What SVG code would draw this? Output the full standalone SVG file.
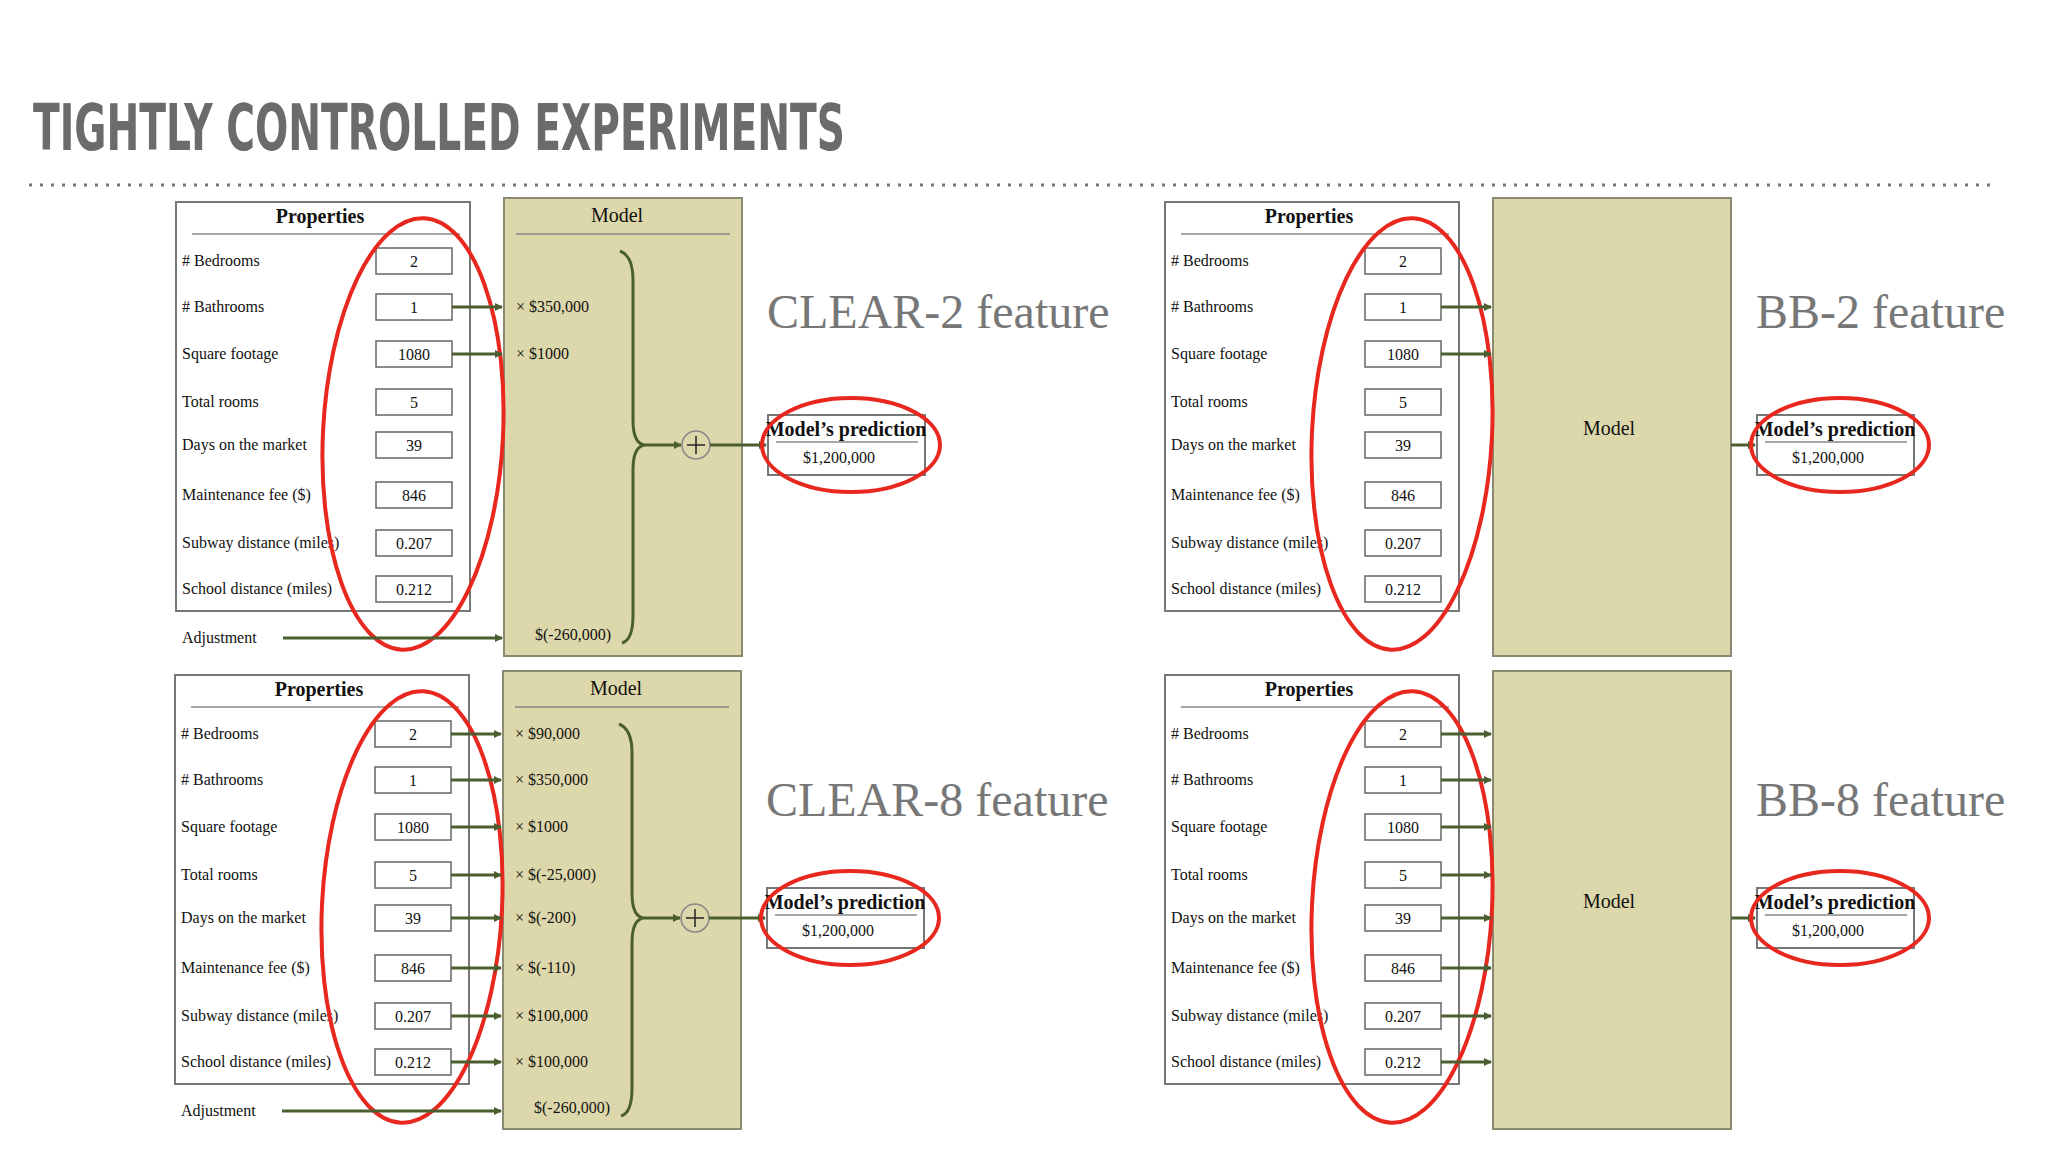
<svg xmlns="http://www.w3.org/2000/svg" width="2048" height="1152" viewBox="0 0 2048 1152">
<style>
.lbl{font-family:"Liberation Serif",serif;font-size:16px;fill:#111}
.val{font-family:"Liberation Serif",serif;font-size:16px;fill:#111;text-anchor:middle}
.hdr{font-family:"Liberation Serif",serif;font-size:20px;fill:#111;text-anchor:middle}
.box{fill:#fff;stroke:#777;stroke-width:2}
.vb{fill:#fff;stroke:#666;stroke-width:1.5}
.model{fill:#ddd8ab;stroke:#8a8a70;stroke-width:2}
.arr{stroke:#4b5e30;stroke-width:3;fill:none;marker-end:url(#ah)}
.red{fill:none;stroke:#e8281e;stroke-width:4}
.feat{font-family:"Liberation Serif",serif;font-size:48px;fill:#777}
.rule{stroke:#888;stroke-width:1.5}
</style>
<defs>
<marker id="ah" markerWidth="8" markerHeight="8" refX="7" refY="4" orient="auto" markerUnits="userSpaceOnUse"><path d="M0,0 L8,4 L0,8 z" fill="#4b5e30"/></marker>
<g id="props">
<rect class="box" x="176" y="202" width="294" height="409"/>
<text class="hdr" x="320" y="223" font-weight="bold">Properties</text>
<line class="rule" x1="192" y1="234" x2="460" y2="234"/>
<text class="lbl" x="182" y="266"># Bedrooms</text>
<text class="lbl" x="182" y="312"># Bathrooms</text>
<text class="lbl" x="182" y="359">Square footage</text>
<text class="lbl" x="182" y="407">Total rooms</text>
<text class="lbl" x="182" y="450">Days on the market</text>
<text class="lbl" x="182" y="500">Maintenance fee ($)</text>
<text class="lbl" x="182" y="548">Subway distance (miles)</text>
<text class="lbl" x="182" y="594">School distance (miles)</text>
<rect class="vb" x="376" y="248" width="76" height="26"/><text class="val" x="414" y="267">2</text>
<rect class="vb" x="376" y="294" width="76" height="26"/><text class="val" x="414" y="313">1</text>
<rect class="vb" x="376" y="341" width="76" height="26"/><text class="val" x="414" y="360">1080</text>
<rect class="vb" x="376" y="389" width="76" height="26"/><text class="val" x="414" y="408">5</text>
<rect class="vb" x="376" y="432" width="76" height="26"/><text class="val" x="414" y="451">39</text>
<rect class="vb" x="376" y="482" width="76" height="26"/><text class="val" x="414" y="501">846</text>
<rect class="vb" x="376" y="530" width="76" height="26"/><text class="val" x="414" y="549">0.207</text>
<rect class="vb" x="376" y="576" width="76" height="26"/><text class="val" x="414" y="595">0.212</text>
<ellipse class="red" cx="413" cy="434" rx="90" ry="216" transform="rotate(3 413 434)"/>
</g>
<g id="pred">
<rect class="box" x="768" y="415" width="157" height="60"/>
<text class="hdr" x="846" y="436" font-size="16" font-weight="bold">Model’s prediction</text>
<line class="rule" x1="776" y1="442" x2="918" y2="442"/>
<text class="val" x="839" y="463">$1,200,000</text>
<ellipse class="red" cx="851" cy="445" rx="89" ry="47"/>
</g>
<g id="brace">
<path d="M620 251 Q633 256 633 280 L633 420 Q633 445 646 445 Q633 445 633 470 L633 615 Q633 640 622 643" fill="none" stroke="#4b5e30" stroke-width="3"/>
<line class="arr" x1="646" y1="445" x2="681" y2="445"/>
<circle cx="696" cy="445" r="14" fill="#ddd8ab" stroke="#888" stroke-width="1.5"/>
<path d="M687 445 H705 M696 436 V454" stroke="#222" stroke-width="1.5"/>
<line class="arr" x1="710" y1="445" x2="766" y2="445"/>
</g>
</defs>
<rect width="2048" height="1152" fill="#fff"/>
<text x="33" y="150" font-family="'DejaVu Sans Condensed','DejaVu Sans',sans-serif" font-stretch="condensed" font-weight="bold" font-size="64" fill="#6b6b6b" textLength="812" lengthAdjust="spacingAndGlyphs">TIGHTLY CONTROLLED EXPERIMENTS</text>
<line x1="29" y1="185" x2="1992" y2="185" stroke="#777" stroke-width="3" stroke-dasharray="3 8"/>

<g id="clear2">
<rect class="model" x="504" y="198" width="238" height="458"/>
<text class="hdr" x="617" y="222">Model</text>
<line class="rule" x1="516" y1="234" x2="730" y2="234"/>
<use href="#props"/>
<text class="lbl" x="516" y="312">× $350,000</text>
<text class="lbl" x="516" y="359">× $1000</text>
<text class="lbl" x="535" y="640">$(-260,000)</text>
<text class="lbl" x="182" y="643">Adjustment</text>
<use href="#brace"/>
<use href="#pred"/>
<text class="feat" x="767" y="328">CLEAR-2 feature</text>
</g>

<g id="clear8" transform="translate(-1 473)">
<rect class="model" x="504" y="198" width="238" height="458"/>
<text class="hdr" x="617" y="222">Model</text>
<line class="rule" x1="516" y1="234" x2="730" y2="234"/>
<use href="#props"/>
<text class="lbl" x="516" y="266">× $90,000</text>
<text class="lbl" x="516" y="312">× $350,000</text>
<text class="lbl" x="516" y="359">× $1000</text>
<text class="lbl" x="516" y="407">× $(-25,000)</text>
<text class="lbl" x="516" y="450">× $(-200)</text>
<text class="lbl" x="516" y="500">× $(-110)</text>
<text class="lbl" x="516" y="548">× $100,000</text>
<text class="lbl" x="516" y="594">× $100,000</text>
<text class="lbl" x="535" y="640">$(-260,000)</text>
<text class="lbl" x="182" y="643">Adjustment</text>
<use href="#brace"/>
<use href="#pred"/>
<text class="feat" x="767" y="816" transform="translate(0 -473)">CLEAR-8 feature</text>
</g>

<g id="bb2" transform="translate(989 0)">
<rect class="model" x="504" y="198" width="238" height="458"/>
<text class="hdr" x="620" y="435">Model</text>
<use href="#props"/>
<line class="arr" x1="742" y1="445" x2="766" y2="445"/>
<use href="#pred"/>
<text class="feat" x="767" y="328">BB-2 feature</text>
</g>

<g id="bb8" transform="translate(989 473)">
<rect class="model" x="504" y="198" width="238" height="458"/>
<text class="hdr" x="620" y="435">Model</text>
<use href="#props"/>
<line class="arr" x1="742" y1="445" x2="766" y2="445"/>
<use href="#pred"/>
<text class="feat" x="767" y="343">BB-8 feature</text>
</g>

<g id="connectors">
<line class="arr" x1="452" y1="307" x2="502" y2="307"/>
<line class="arr" x1="452" y1="354" x2="502" y2="354"/>
<line class="arr" x1="283" y1="638" x2="502" y2="638"/>
<g transform="translate(-1 473)">
<line class="arr" x1="452" y1="261" x2="502" y2="261"/>
<line class="arr" x1="452" y1="307" x2="502" y2="307"/>
<line class="arr" x1="452" y1="354" x2="502" y2="354"/>
<line class="arr" x1="452" y1="402" x2="502" y2="402"/>
<line class="arr" x1="452" y1="445" x2="502" y2="445"/>
<line class="arr" x1="452" y1="495" x2="502" y2="495"/>
<line class="arr" x1="452" y1="543" x2="502" y2="543"/>
<line class="arr" x1="452" y1="589" x2="502" y2="589"/>
<line class="arr" x1="283" y1="638" x2="502" y2="638"/>
</g>
<g transform="translate(989 0)">
<line class="arr" x1="452" y1="307" x2="502" y2="307"/>
<line class="arr" x1="452" y1="354" x2="502" y2="354"/>
</g>
<g transform="translate(989 473)">
<line class="arr" x1="452" y1="261" x2="502" y2="261"/>
<line class="arr" x1="452" y1="307" x2="502" y2="307"/>
<line class="arr" x1="452" y1="354" x2="502" y2="354"/>
<line class="arr" x1="452" y1="402" x2="502" y2="402"/>
<line class="arr" x1="452" y1="445" x2="502" y2="445"/>
<line class="arr" x1="452" y1="495" x2="502" y2="495"/>
<line class="arr" x1="452" y1="543" x2="502" y2="543"/>
<line class="arr" x1="452" y1="589" x2="502" y2="589"/>
</g>
</g>
</svg>
